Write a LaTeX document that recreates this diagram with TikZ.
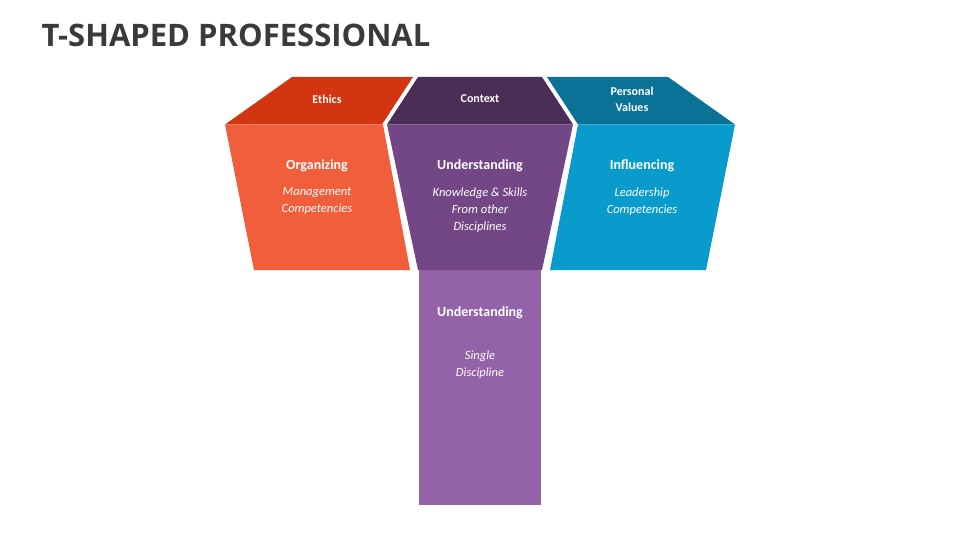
\documentclass[tikz,border=0pt]{standalone}
\usepackage{fontspec}
\setmainfont{Carlito}
\newfontfamily\titlefont{Open Sans}
\definecolor{od}{HTML}{D33411}\definecolor{ol}{HTML}{F15E3B}
\definecolor{pd}{HTML}{4B2E55}\definecolor{pl}{HTML}{734785}
\definecolor{td}{HTML}{0A7296}\definecolor{tl}{HTML}{099BCB}
\definecolor{st}{HTML}{9462A8}\definecolor{tt}{HTML}{3A3A3A}
\tikzset{x=1pt,y=-1pt,
 head/.style={text=white,font=\bfseries\fontsize{14}{17}\selectfont},
 sub/.style={text=white,font=\itshape\fontsize{12.5}{17}\selectfont,align=center},
 top/.style={text=white,font=\bfseries\fontsize{12}{16}\selectfont,align=center}}
\begin{document}
\begin{tikzpicture}
\useasboundingbox (0,0) rectangle (960,540);
\node[anchor=west,text=tt,font=\titlefont\bfseries\fontsize{31}{36}\selectfont] (title) at (38,35) {T-SHAPED PROFESSIONAL};
% left
\fill[od] (292,77) -- (413,77) -- (382,124.5) -- (225,124.5) -- cycle;
\fill[ol] (225,124.5) -- (383,124.5) -- (410,270) -- (254,270) -- cycle;
% middle
\fill[st] (419,270) rectangle (541,505);
\fill[pd] (418,77) -- (542,77) -- (573,124.5) -- (387,124.5) -- cycle;
\fill[pl] (387,124.5) -- (573,124.5) -- (542,270) -- (418,270) -- cycle;
% right
\fill[td] (547,77) -- (668,77) -- (735,124.5) -- (578,124.5) -- cycle;
\fill[tl] (578,124.5) -- (735,124.5) -- (706,270) -- (550,270) -- cycle;
\node[top] (a1) at (327,99) {Ethics};
\node[top] (a2) at (480,99) {Context};
\node[top] (a3) at (632,99) {Personal\\Values};
\node[head] (b1) at (317,166) {Organizing};
\node[head] (b2) at (480,166) {Understanding};
\node[head] (b3) at (642,166) {Influencing};
\node[sub,anchor=north] (c1) at (317,184) {Management\\Competencies};
\node[sub,anchor=north] (c2) at (480,184) {Knowledge \& Skills\\From other\\Disciplines};
\node[sub,anchor=north] (c3) at (642,184) {Leadership\\Competencies};
\node[head] (d) at (480,313) {Understanding};
\node[sub,anchor=north] (e) at (480,347) {Single\\Discipline};
\end{tikzpicture}
\end{document}
